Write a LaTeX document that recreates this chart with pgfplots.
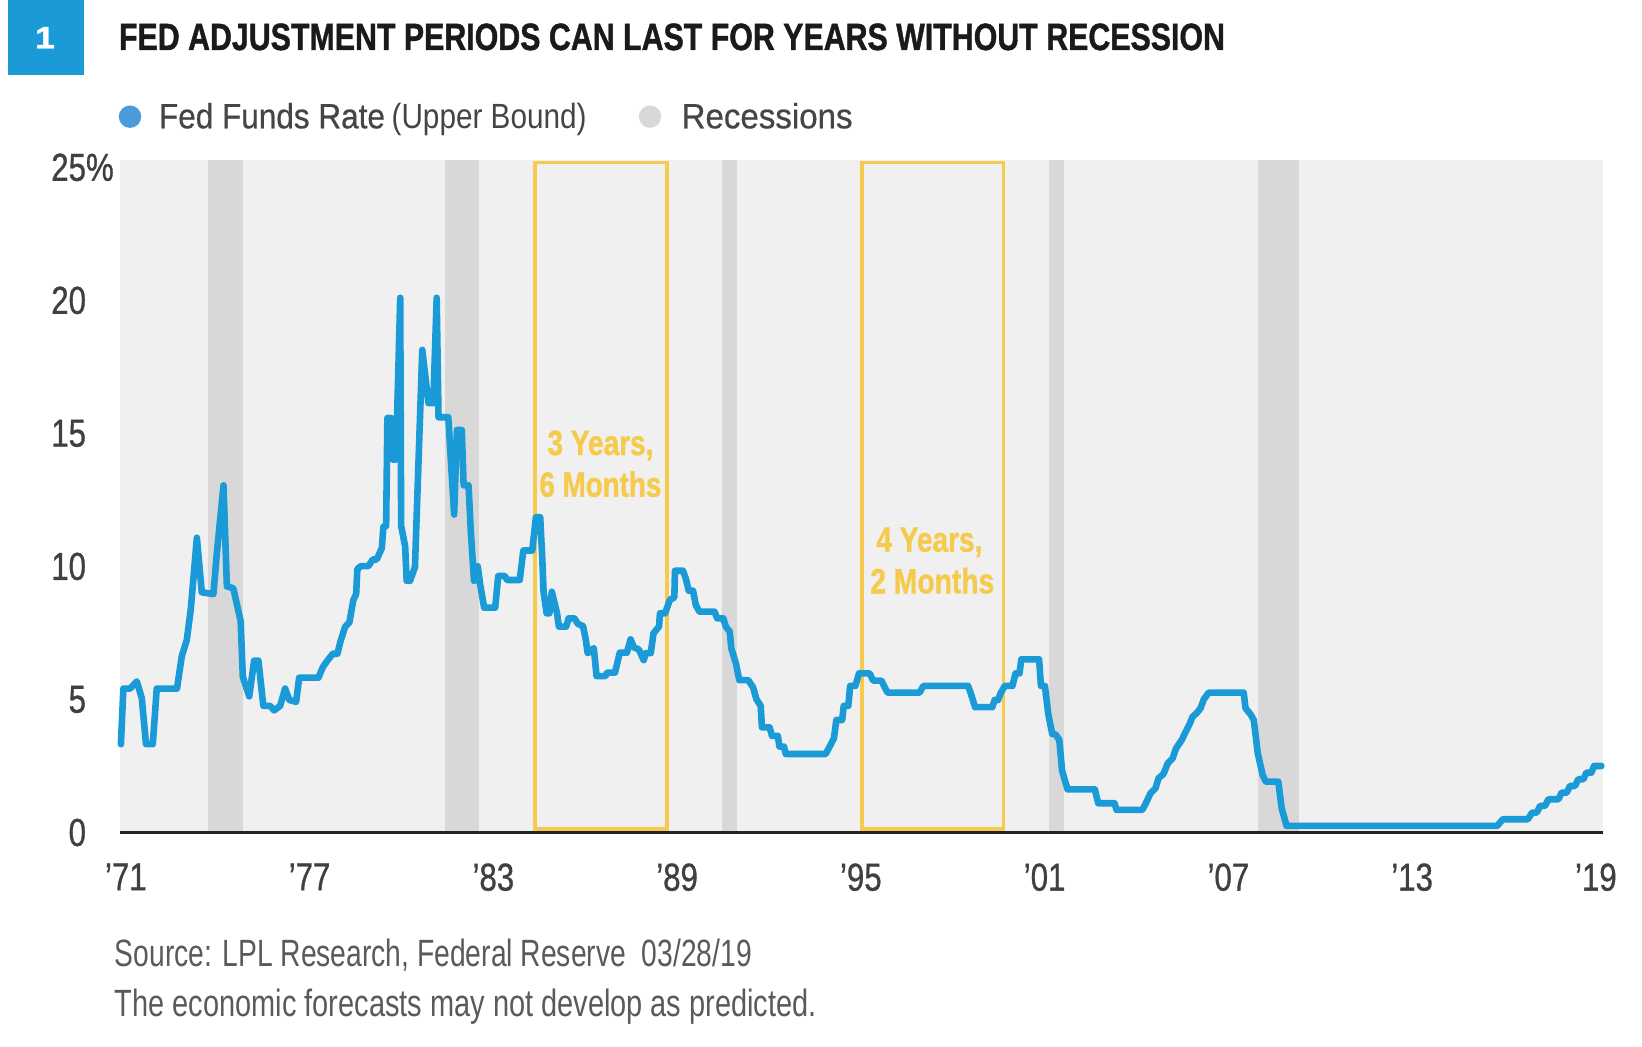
\documentclass[border=0pt]{standalone}
\usepackage{fontspec}
\usepackage{graphicx}
\usepackage{pgfplots}
\pgfplotsset{compat=1.18}
\setmainfont{Liberation Sans}
\newfontfamily\tickfont{Liberation Sans}[FakeStretch=0.8, FakeBold=0.8]
\newfontfamily\heavy{Liberation Sans}[FakeBold=1.2]
\newfontfamily\medium{Liberation Sans}[FakeBold=0.6]
\definecolor{bgc}{HTML}{F0F0F0}
\definecolor{bandc}{HTML}{D8D8D8}
\definecolor{linec}{HTML}{1A9AD6}
\definecolor{bluesq}{HTML}{1A9AD6}
\definecolor{legblue}{HTML}{4A9ADC}
\definecolor{yel}{HTML}{F6CA4C}
\definecolor{titlec}{HTML}{1A1A1A}
\definecolor{legtext}{HTML}{454545}
\definecolor{tickc}{HTML}{404040}
\definecolor{footc}{HTML}{5A5A5A}
\definecolor{basec}{HTML}{222222}
\newcommand\fit[3]{\resizebox{#1}{\height}{\fontsize{#2}{#2}\selectfont #3}}
\begin{document}
\begin{tikzpicture}
\path[use as bounding box] (0pt,0pt) rectangle (821pt,523pt);
% header
\fill[bluesq] (4pt,485.5pt) rectangle (42pt,523pt);
\node[anchor=base, inner sep=0pt, text=white] at (22.5pt,498.85pt) {\scalebox{1.15}[1]{\fontsize{15.4}{16}\selectfont\heavy\bfseries 1}};
\node[anchor=base west, inner sep=0pt, text=titlec] at (59.3pt,498pt) {\fit{553pt}{19}{\heavy\bfseries FED ADJUSTMENT PERIODS CAN LAST FOR YEARS WITHOUT RECESSION}};
% legend
\fill[legblue] (65pt,464.65pt) circle (5.6pt);
\node[anchor=base west, inner sep=0pt, text=legtext] at (79.3pt,458.85pt) {\fit{113pt}{17.5}{\medium Fed Funds Rate}};
\node[anchor=base west, inner sep=0pt, text=legtext] at (195.6pt,458.85pt) {\fit{97.5pt}{17.5}{(Upper Bound)}};
\fill[bandc] (325pt,464.65pt) circle (5.6pt);
\node[anchor=base west, inner sep=0pt, text=legtext] at (340.6pt,458.85pt) {\fit{85.5pt}{17.5}{\medium Recessions}};
\begin{axis}[
  at={(60pt,106.75pt)}, anchor=south west,
  scale only axis, width=741.3pt, height=336.15pt,
  xmin=1970.81, xmax=2019.22, ymin=0, ymax=25.27,
  clip=false,
  axis background/.style={fill=bgc},
  axis line style={draw=none},
  tick style={draw=none},
  major tick length=0pt,
  xtick={1971,1977,1983,1989,1995,2001,2007,2013,2019},
  xticklabels={’71,’77,’83,’89,’95,’01,’07,’13,’19},
  ytick={0,5,10,15,20,25},
  yticklabels={0,5,10,15,20,{25\rlap{\%}}},
  xticklabel style={font=\tickfont\fontsize{19.5}{20}\selectfont, text=tickc, anchor=north, inner sep=0pt, yshift=-15.25pt},
  yticklabel style={font=\tickfont\fontsize{19.5}{20}\selectfont, text=tickc, anchor=east, inner sep=0pt, xshift=-16.8pt},
]
% recession bands
\addplot[draw=none, fill=bandc] coordinates {(1973.69,0) (1973.69,25.27) (1974.83,25.27) (1974.83,0)} -- cycle;
\addplot[draw=none, fill=bandc] coordinates {(1981.41,0) (1981.41,25.27) (1982.52,25.27) (1982.52,0)} -- cycle;
\addplot[draw=none, fill=bandc] coordinates {(1990.47,0) (1990.47,25.27) (1990.95,25.27) (1990.95,0)} -- cycle;
\addplot[draw=none, fill=bandc] coordinates {(2001.15,0) (2001.15,25.27) (2001.64,25.27) (2001.64,0)} -- cycle;
\addplot[draw=none, fill=bandc] coordinates {(2007.96,0) (2007.96,25.27) (2009.30,25.27) (2009.30,0)} -- cycle;
% adjustment period boxes
\addplot[draw=yel, line width=1.9pt] coordinates {(1984.35,0.12) (1984.35,25.18) (1988.68,25.18) (1988.68,0.12)} -- cycle;
\addplot[draw=yel, line width=1.9pt] coordinates {(1995.05,0.12) (1995.05,25.18) (1999.66,25.18) (1999.66,0.12)} -- cycle;
% fed funds rate
\addplot[draw=linec, line width=3.3pt, line join=round, line cap=round, mark=none] coordinates {
(1970.84,3.32) (1970.92,5.41) (1971.14,5.41) (1971.36,5.68) (1971.52,5.05) (1971.66,3.32) (1971.88,3.32)
(1972.01,5.41) (1972.67,5.41) (1972.83,6.64) (1972.99,7.23) (1973.12,8.38) (1973.32,11.08) (1973.48,9.03)
(1973.86,8.96) (1973.97,10.48) (1974.19,13.05) (1974.30,9.25) (1974.51,9.18) (1974.75,7.94) (1974.82,5.85)
(1975.03,5.12) (1975.19,6.46) (1975.33,6.46) (1975.49,4.76) (1975.71,4.76) (1975.84,4.59) (1976.04,4.76)
(1976.20,5.41) (1976.34,4.98) (1976.56,4.91) (1976.66,5.82) (1977.29,5.82) (1977.43,6.21) (1977.58,6.46)
(1977.76,6.72) (1977.91,6.72) (1978.00,7.15) (1978.16,7.73) (1978.30,7.90) (1978.43,8.74) (1978.52,8.96)
(1978.56,9.90) (1978.67,10.01) (1978.92,10.01) (1979.06,10.26) (1979.19,10.26) (1979.36,10.69) (1979.41,11.49)
(1979.50,11.52) (1979.54,15.58) (1979.66,15.58) (1979.71,14.02) (1979.82,14.02) (1979.96,20.1) (1979.99,11.52)
(1980.12,10.76) (1980.17,9.46) (1980.28,9.46) (1980.44,9.97) (1980.68,18.14) (1980.88,16.14) (1981.04,16.14)
(1981.15,20.1) (1981.21,15.61) (1981.53,15.61) (1981.72,11.95) (1981.81,15.13) (1981.97,15.13) (1982.03,13.05)
(1982.19,13.05) (1982.27,11.2) (1982.37,9.46) (1982.49,10.01) (1982.57,9.32) (1982.70,8.45) (1983.06,8.45)
(1983.16,9.64) (1983.38,9.64) (1983.45,9.49) (1983.86,9.49) (1983.98,10.6) (1984.27,10.6) (1984.39,11.85)
(1984.53,11.85) (1984.60,10.24) (1984.64,9.05) (1984.74,8.24) (1984.83,8.24) (1984.91,9.05) (1985.08,8.24)
(1985.14,7.74) (1985.38,7.74) (1985.46,8.05) (1985.65,8.05) (1985.76,7.84) (1985.93,7.76) (1986.02,7.24)
(1986.08,6.74) (1986.28,6.93) (1986.37,5.88) (1986.66,5.88) (1986.72,6.01) (1986.97,6.01) (1987.13,6.76)
(1987.36,6.76) (1987.48,7.26) (1987.59,6.96) (1987.75,6.88) (1987.91,6.48) (1987.98,6.74) (1988.14,6.74)
(1988.23,7.49) (1988.41,7.74) (1988.44,8.24) (1988.61,8.24) (1988.76,8.74) (1988.91,8.84) (1988.93,9.84)
(1989.19,9.84) (1989.28,9.56) (1989.38,9.09) (1989.52,9.09) (1989.61,8.55) (1989.73,8.30) (1990.22,8.30)
(1990.31,8.05) (1990.51,8.05) (1990.59,7.74) (1990.72,7.55) (1990.77,6.92) (1990.92,6.36) (1991.03,5.73)
(1991.32,5.73) (1991.48,5.46) (1991.59,5.01) (1991.73,4.76) (1991.77,3.95) (1992.02,3.95) (1992.10,3.63)
(1992.29,3.63) (1992.34,3.23) (1992.49,3.23) (1992.55,2.95) (1993.85,2.95) (1994.01,3.29) (1994.12,3.54)
(1994.20,4.23) (1994.39,4.23) (1994.44,4.76) (1994.59,4.76) (1994.65,5.51) (1994.82,5.51) (1994.94,5.98)
(1995.29,5.98) (1995.40,5.71) (1995.67,5.71) (1995.87,5.26) (1996.92,5.26) (1997.04,5.51) (1998.50,5.51)
(1998.59,5.23) (1998.73,4.71) (1999.29,4.71) (1999.37,4.98) (1999.48,4.98) (1999.56,5.23) (1999.70,5.51)
(1999.95,5.51) (2000.05,5.98) (2000.18,5.98) (2000.24,6.51) (2000.82,6.51) (2000.88,5.51) (2001.01,5.51)
(2001.12,4.45) (2001.25,3.70) (2001.35,3.70) (2001.48,3.48) (2001.57,2.32) (2001.75,1.62) (2002.64,1.62)
(2002.75,1.10) (2003.28,1.10) (2003.35,0.85) (2004.19,0.85) (2004.28,1.04) (2004.46,1.48) (2004.62,1.66)
(2004.72,2.04) (2004.88,2.20) (2005.02,2.60) (2005.18,2.79) (2005.29,3.16) (2005.49,3.50) (2005.58,3.73)
(2005.72,4.04) (2005.83,4.35) (2005.96,4.48) (2006.09,4.67) (2006.20,5.01) (2006.36,5.26) (2007.50,5.26)
(2007.56,4.67) (2007.72,4.45) (2007.83,4.23) (2007.96,2.98) (2008.12,2.16) (2008.22,1.91) (2008.63,1.91)
(2008.74,0.91) (2008.90,0.25) (2015.78,0.25) (2015.96,0.5) (2016.78,0.5) (2016.92,0.75) (2017.07,0.75)
(2017.18,1.0) (2017.34,1.0) (2017.45,1.25) (2017.78,1.25) (2017.88,1.5) (2018.05,1.5) (2018.15,1.75)
(2018.32,1.75) (2018.42,2.0) (2018.59,2.0) (2018.69,2.25) (2018.85,2.25) (2018.94,2.5) (2019.18,2.5)
};
% baseline
\addplot[draw=basec, line width=1.65pt, mark=none] coordinates {(1970.81,0) (2019.22,0)};
\end{axis}
% annotations
\node[anchor=base, inner sep=0pt, text=yel] at (300.25pt,295.5pt) {\fit{53pt}{17.5}{\heavy\bfseries 3 Years,}};
\node[anchor=base, inner sep=0pt, text=yel] at (300.2pt,274.65pt) {\fit{61pt}{17.5}{\heavy\bfseries 6 Months}};
\node[anchor=base, inner sep=0pt, text=yel] at (464.7pt,247.15pt) {\fit{53pt}{17.5}{\heavy\bfseries 4 Years,}};
\node[anchor=base, inner sep=0pt, text=yel] at (466.15pt,226.35pt) {\fit{62pt}{17.5}{\heavy\bfseries 2 Months}};
% footer
\node[anchor=base west, inner sep=0pt, text=footc] at (57.2pt,39.65pt) {\fit{318.5pt}{19}{Source: LPL Research, Federal Reserve\ \ 03/28/19}};
\node[anchor=base west, inner sep=0pt, text=footc] at (57.2pt,14.65pt) {\fit{351pt}{19}{The economic forecasts may not develop as predicted.}};
\end{tikzpicture}
\end{document}
